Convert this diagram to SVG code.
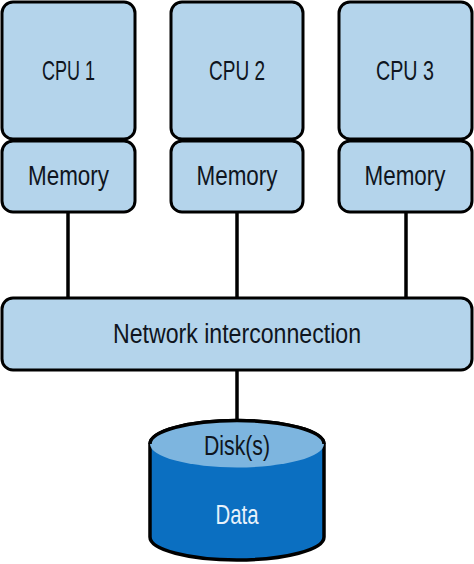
<svg xmlns="http://www.w3.org/2000/svg" width="474" height="564" viewBox="0 0 474 564">
<style>
.box{fill:#b4d4eb;stroke:#000;stroke-width:3}
.lbl{font-family:"Liberation Sans",Arial,sans-serif;font-size:27.5px;fill:#0f1520;text-anchor:middle}
.wl{fill:#e8f2fb}
.conn{stroke:#000;stroke-width:3.5;fill:none}
</style>
<rect width="474" height="564" fill="#fff"/>
<g id="connectors">
<line class="conn" x1="68" y1="212" x2="68" y2="298"/>
<line class="conn" x1="237" y1="212" x2="237" y2="298"/>
<line class="conn" x1="406" y1="212" x2="406" y2="298"/>
<line class="conn" x1="237" y1="370" x2="237" y2="421"/>
</g>
<g id="cpu1">
<rect class="box" x="2" y="2" width="133" height="137" rx="11"/>
<text class="lbl" x="68.5" y="80" textLength="53" lengthAdjust="spacingAndGlyphs">CPU 1</text>
</g>
<g id="mem1">
<rect class="box" x="2" y="141" width="133" height="71" rx="11"/>
<text class="lbl" x="68.5" y="185" textLength="81" lengthAdjust="spacingAndGlyphs">Memory</text>
</g>
<g id="cpu2">
<rect class="box" x="171" y="2" width="132" height="137" rx="11"/>
<text class="lbl" x="237" y="80" textLength="56" lengthAdjust="spacingAndGlyphs">CPU 2</text>
</g>
<g id="mem2">
<rect class="box" x="171" y="141" width="132" height="71" rx="11"/>
<text class="lbl" x="237" y="185" textLength="81" lengthAdjust="spacingAndGlyphs">Memory</text>
</g>
<g id="cpu3">
<rect class="box" x="339" y="2" width="133" height="137" rx="11"/>
<text class="lbl" x="405" y="80" textLength="58" lengthAdjust="spacingAndGlyphs">CPU 3</text>
</g>
<g id="mem3">
<rect class="box" x="339" y="141" width="133" height="71" rx="11"/>
<text class="lbl" x="405" y="185" textLength="81" lengthAdjust="spacingAndGlyphs">Memory</text>
</g>
<g id="network">
<rect class="box" x="2" y="298" width="470" height="72" rx="11"/>
<text class="lbl" x="237" y="343" textLength="248" lengthAdjust="spacingAndGlyphs">Network interconnection</text>
</g>
<g id="disk">
<path d="M150 444 A87 23.5 0 0 1 324 444 L324 537 A87 23 0 0 1 150 537 Z" fill="#0b6fc1" stroke="#000" stroke-width="3.5"/>
<ellipse cx="237" cy="444" rx="87" ry="23.5" fill="#7db5df" stroke="none"/>
<path d="M150 444 A87 23.5 0 0 1 324 444" fill="none" stroke="#000" stroke-width="3.5"/>
<text class="lbl" x="237" y="455" textLength="66" lengthAdjust="spacingAndGlyphs">Disk(s)</text>
<text class="lbl wl" x="237" y="524" textLength="43" lengthAdjust="spacingAndGlyphs">Data</text>
</g>
</svg>
